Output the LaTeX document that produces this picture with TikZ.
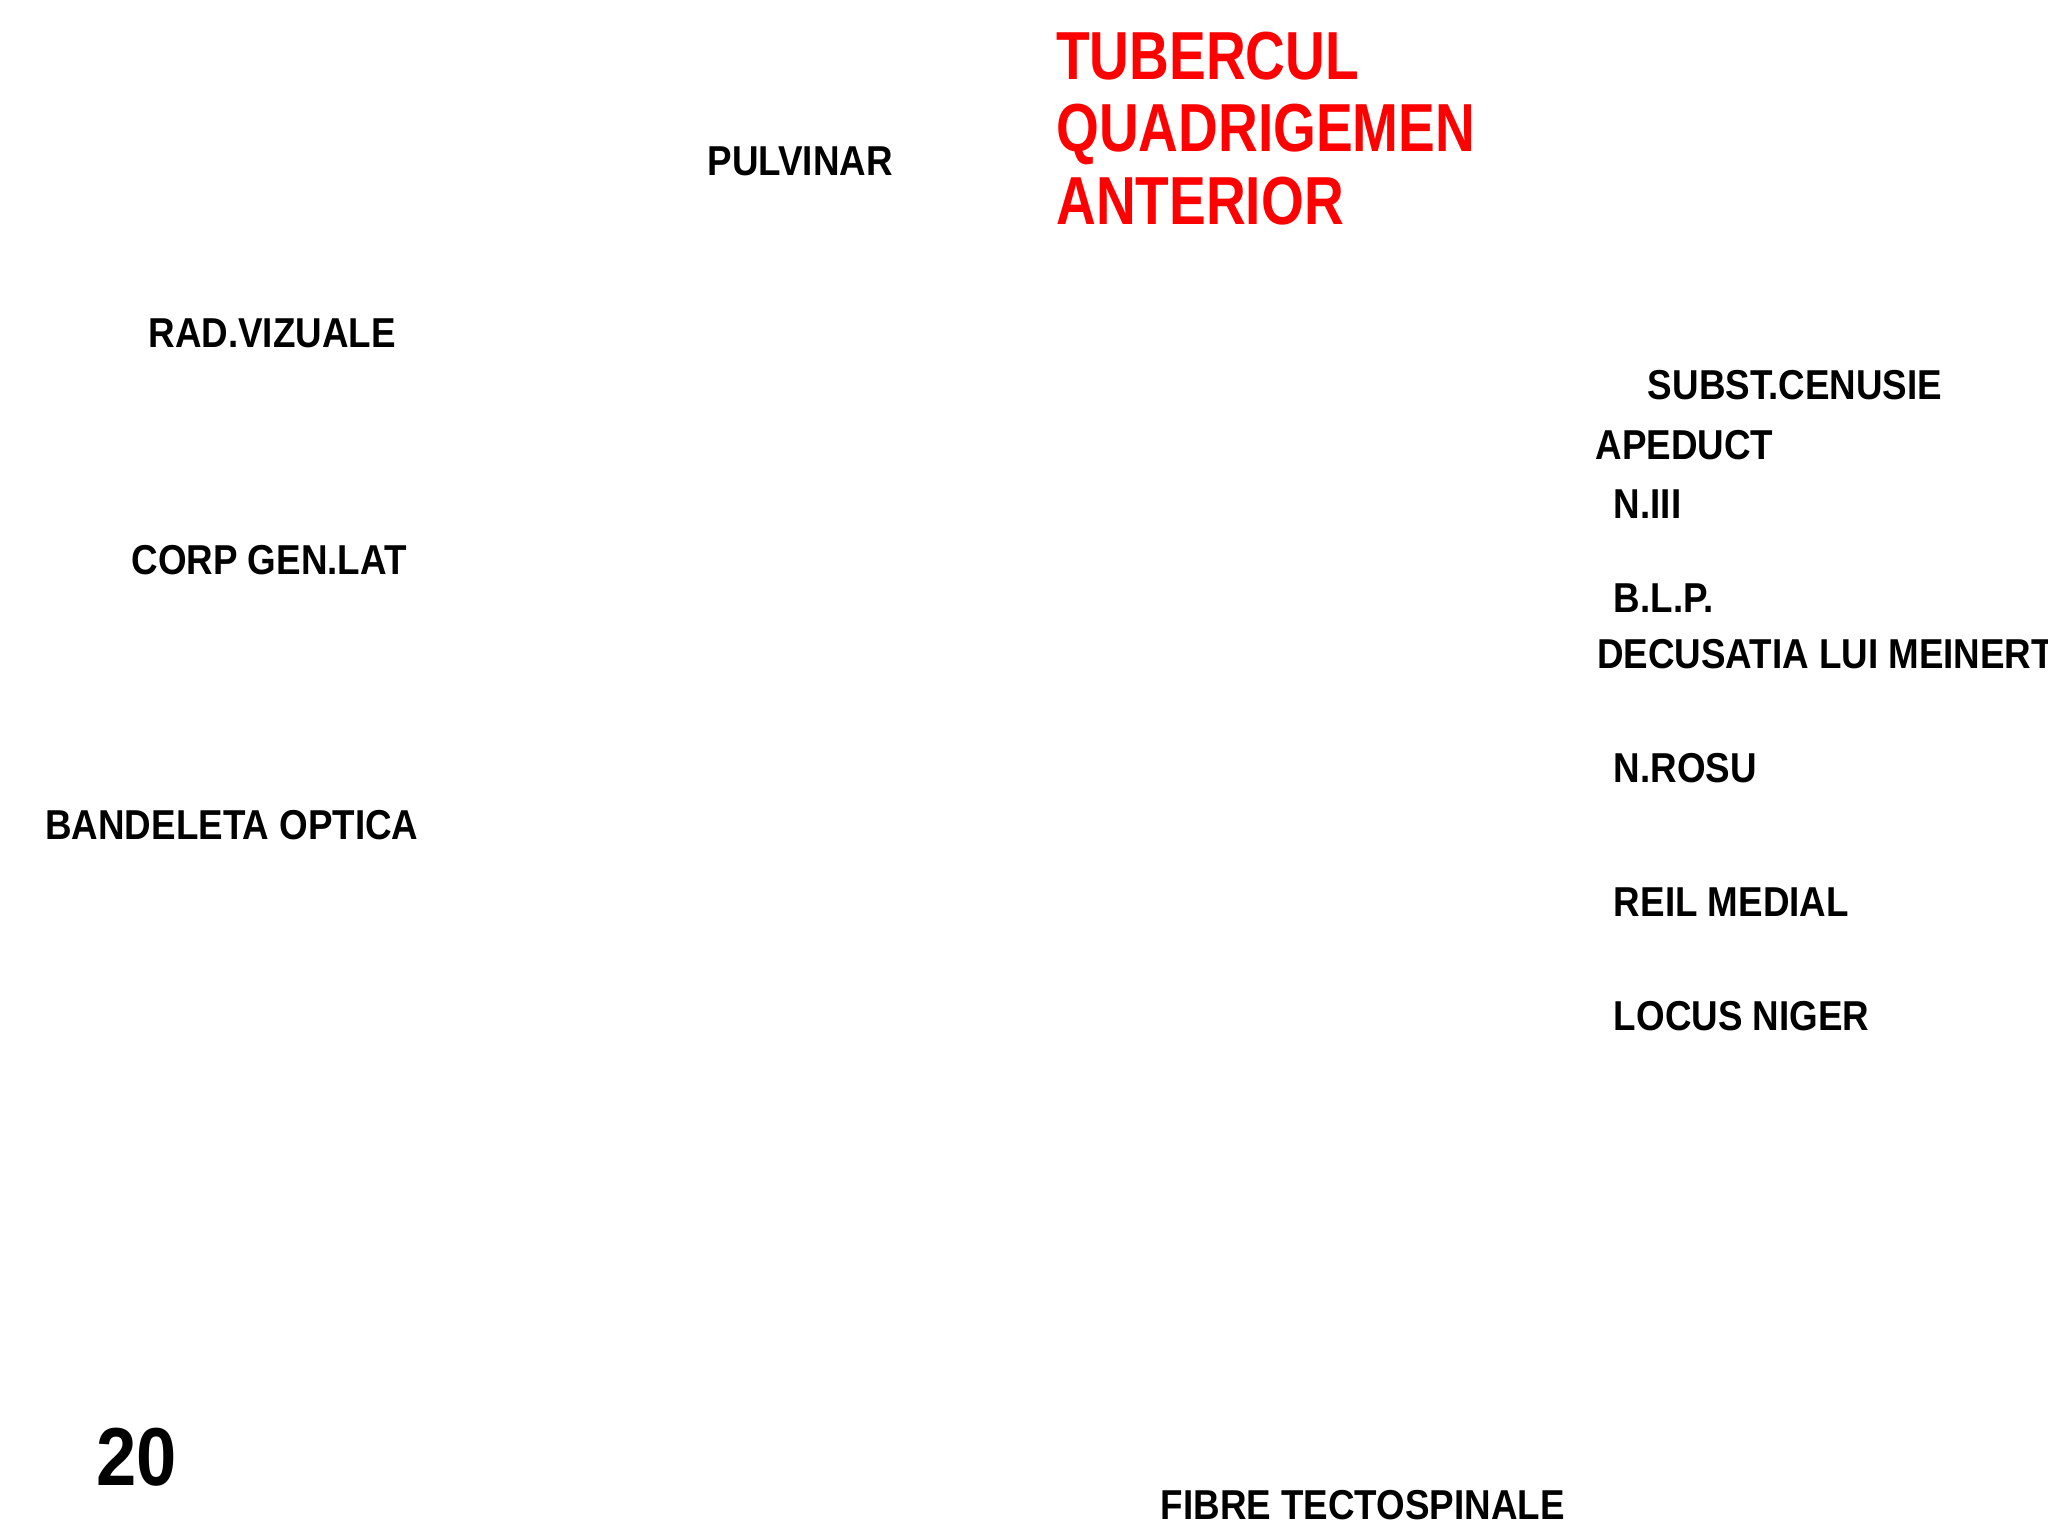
\documentclass[tikz,border=0pt]{standalone}
\usepackage{fontspec}
\usepackage{tikz}
\newfontfamily\slidefont[FakeStretch=0.88]{Liberation Sans}
\newfontfamily\titlefont[FakeStretch=0.81]{Liberation Sans}
\definecolor{titlered}{RGB}{255,0,0}
\tikzset{
	lbl/.style={anchor=base west, inner sep=0pt, font=\slidefont\bfseries\fontsize{9.1pt}{10pt}\selectfont},
	titlelbl/.style={anchor=base west, inner sep=0pt, text=titlered, font=\titlefont\bfseries\fontsize{14.8pt}{16pt}\selectfont},
	pagenum/.style={anchor=base west, inner sep=0pt, font=\slidefont\bfseries\fontsize{17.9pt}{19pt}\selectfont}
}

\begin{document}
\begin{tikzpicture}[x=0.01cm, y=-0.01cm]
	\useasboundingbox (0,0) rectangle (1568,1176);
	% title
	\node (tub) at (808,61) [titlelbl] {TUBERCUL};
	\node (quad) at (808,116) [titlelbl] {QUADRIGEMEN};
	\node (ant) at (808,172) [titlelbl] {ANTERIOR};
	% left side
	\node (pulv) at (541,134) [lbl] {PULVINAR};
	\node (rad) at (113,266) [lbl] {RAD.VIZUALE};
	\node (cgl) at (100,440) [lbl] {CORP GEN.LAT};
	\node (band) at (34,643) [lbl] {BANDELETA OPTICA};
	% right side
		\node (subst) at (1261,306) [lbl] {SUBST.CENUSIE};
		\node (aped) at (1221,352) [lbl] {APEDUCT};
		\node (n3) at (1235,397) [lbl] {N.III};
		\node (blp) at (1235,469) [lbl] {B.L.P.};
		\node (dec) at (1222,512) [lbl] {DECUSATIA LUI MEINERT};
		\node (nrosu) at (1235,599) [lbl] {N.ROSU};
		\node (reil) at (1235,702) [lbl] {REIL MEDIAL};
		\node (locus) at (1235,789) [lbl] {LOCUS NIGER};
	% bottom
	\node (fibre) at (888,1163) [lbl] {FIBRE TECTOSPINALE};
	\node (num) at (73,1137) [pagenum] {20};
\end{tikzpicture}
\end{document}
